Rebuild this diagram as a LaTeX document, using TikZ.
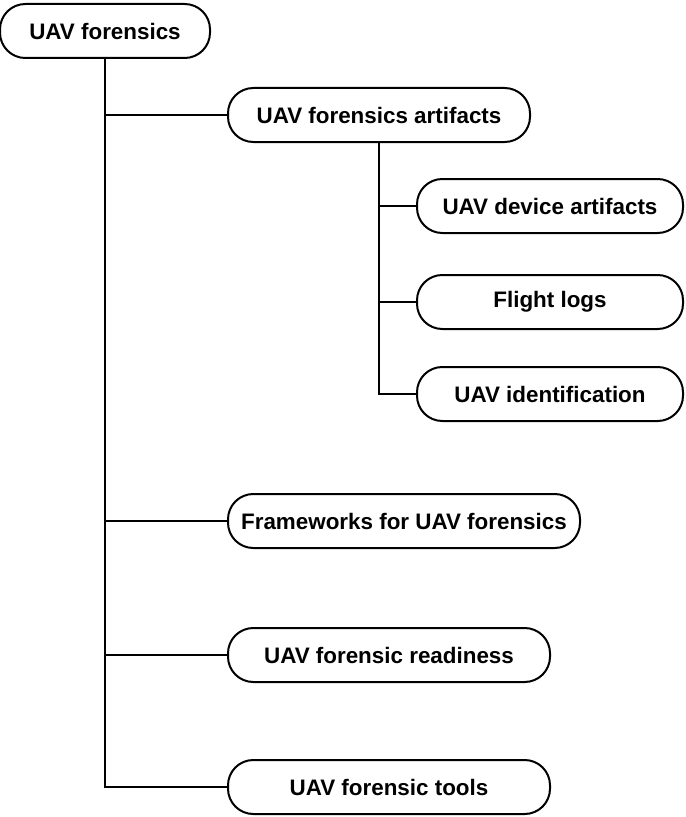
\documentclass[tikz,border=0pt]{standalone}
\usepackage{fontspec}
\setmainfont{Liberation Sans}
\usetikzlibrary{positioning}
\tikzstyle{box}=[draw, line width=1.5pt, rounded corners=19pt, align=center, inner sep=0pt, minimum height=40.5pt, font=\fontsize{16.8}{20}\selectfont\bfseries]
\tikzstyle{link}=[line width=1.5pt]

\begin{document}
\begin{tikzpicture}[x=0.75pt, y=-0.75pt]
\useasboundingbox (0,0) rectangle (685,817);
\node[box, minimum width=157.5pt](root) at (105,31) {UAV forensics};
\node[box, minimum width=226.5pt](art) at (379,115) {UAV forensics artifacts};
\node[box, minimum width=199.5pt](dev) at (550,206) {UAV device artifacts};
\node[box, minimum width=199.5pt](logs) at (550,302) {Flight logs};
\node[box, minimum width=199.5pt](ident) at (550,394) {UAV identification};
\node[box, minimum width=264pt](frame) at (404,521) {Frameworks for UAV forensics};
\node[box, minimum width=241.5pt](ready) at (389,655) {UAV forensic readiness};
\node[box, minimum width=241.5pt](tools) at (389,787) {UAV forensic tools};
%main trunk
\draw[link] (root.south) |- (tools.west);
\draw[link] (root.south |- art.west) -- (art.west);
\draw[link] (root.south |- frame.west) -- (frame.west);
\draw[link] (root.south |- ready.west) -- (ready.west);
%artifacts trunk
\draw[link] (art.south) |- (ident.west);
\draw[link] (art.south |- dev.west) -- (dev.west);
\draw[link] (art.south |- logs.west) -- (logs.west);
\end{tikzpicture}
\end{document}
